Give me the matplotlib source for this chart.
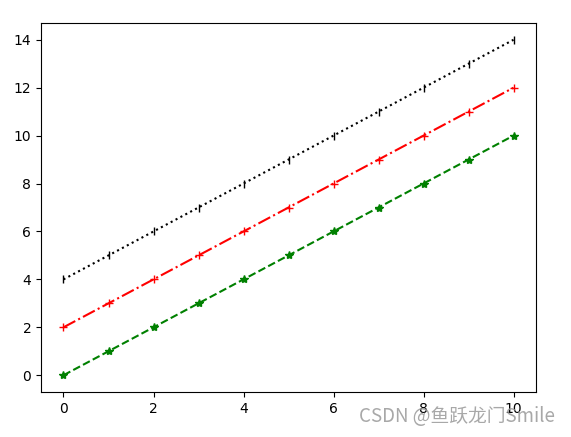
import matplotlib.pyplot as plt

x = list(range(11))
y_green = [0, 1, 2, 3, 4, 5, 6, 7, 8, 9, 10]
y_red = [2, 3, 4, 5, 6, 7, 8, 9, 10, 11, 12]
y_black = [4, 5, 6, 7, 8, 9, 10, 11, 12, 13, 14]

fig = plt.figure(figsize=(5.71, 4.37), dpi=100)
ax = fig.add_axes([41 / 571, 1 - 392 / 437, 495 / 571, 369 / 437])

ax.plot(x, y_green, 'g--*')
ax.plot(x, y_red, 'r-.+')
ax.plot(x, y_black, 'k:|')

# watermark
fig.text(555 / 571, 10 / 437, 'CSDN @鱼跃龙门Smile', ha='right', va='bottom',
         fontsize=13.5, color='#999999', alpha=0.85,
         family=['Noto Sans CJK SC', 'DejaVu Sans'])

fig.savefig('out.png', dpi=100)
